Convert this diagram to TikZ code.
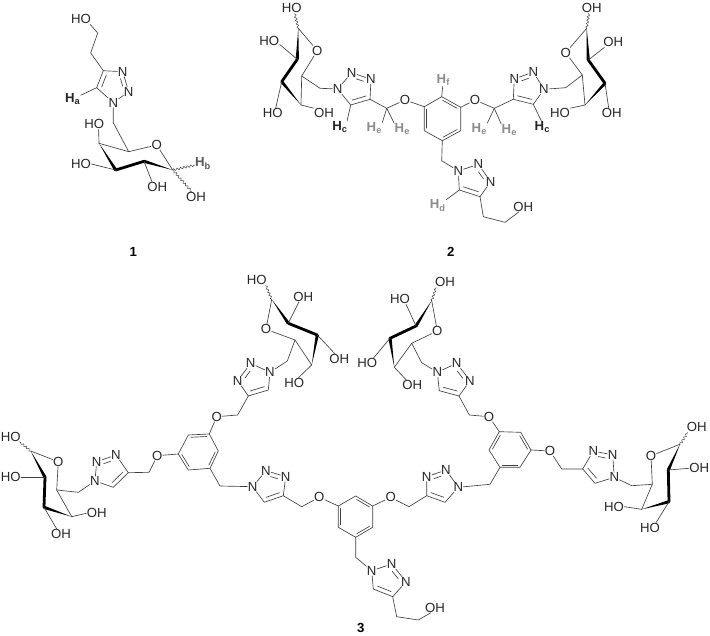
\documentclass[tikz,border=0pt]{standalone}
\usepackage{fontspec}
\setmainfont{Liberation Sans}
\usetikzlibrary{positioning,calc,decorations.pathmorphing}
\tikzstyle{AtomNode}=[inner sep=0.3pt, font=\fontsize{13.2}{13.2}\selectfont, text=black!85]
\tikzstyle{HydNode}=[AtomNode, font=\fontsize{13.2}{13.2}\selectfont\bfseries]
\tikzstyle{GrayNode}=[HydNode, text=black!45]
\tikzstyle{NumNode}=[inner sep=0pt, font=\fontsize{13.2}{13.2}\selectfont\bfseries]
\tikzstyle{BondLine}=[draw=black!75, line width=0.65pt, line cap=round, line join=round]
\tikzstyle{WavyBond}=[BondLine, line width=0.5pt, decorate, decoration={snake, amplitude=1.1pt, segment length=3.5pt}]
\tikzstyle{BoldBond}=[draw=black, line width=2.8pt, line cap=round]
\newcommand{\InnerBond}[4][0pt]{\draw [BondLine, shorten <=#1, shorten >=#1] ($(#2)!0.14!(#4)$) -- ($(#3)!0.14!(#4)$);}
\newcommand{\WedgeBond}[2]{\fill [black] (#1) -- ($(#2)!1.6pt!90:(#1)$) -- ($(#2)!1.6pt!-90:(#1)$) -- cycle;}
\newcommand{\SugarRing}[1]{%
  \draw [BondLine] (#1C1) -- (#1O) -- (#1C5) -- (#1C4);
  \WedgeBond{#1C1}{#1C2}
  \draw [BoldBond] (#1C2) -- (#1C3);
  \WedgeBond{#1C4}{#1C3}
}
\newcommand{\TriazoleRing}[1]{%
  \draw [BondLine] (#1N1) -- (#1N2) -- (#1N3) -- (#1C4) -- (#1C5) -- (#1N1);
  \InnerBond[5pt]{#1N2}{#1N3}{#1C5}
  \InnerBond[1.5pt]{#1C4}{#1C5}{#1N2}
}
\newcommand{\BenzeneRing}[1]{%
  \draw [BondLine] (#1A) -- (#1B) -- (#1C) -- (#1D) -- (#1E) -- (#1F) -- cycle;
  \coordinate (#1M) at ($(#1A)!0.5!(#1D)$);
  \InnerBond[1pt]{#1A}{#1B}{#1M}
  \InnerBond[1pt]{#1C}{#1D}{#1M}
  \InnerBond[1pt]{#1E}{#1F}{#1M}
}

\begin{document}
\begin{tikzpicture}[x=1pt, y=-1pt]
    \useasboundingbox (0,0) rectangle (710,636);

    % compound 1
    \node (T1HO) [AtomNode] at (81,19) {HO};
    \coordinate (T1Cb) at (97.7,33);
    \coordinate (T1Ca) at (90.7,53);
    \coordinate (T1C4) at (103.3,70.7);
    \coordinate (T1C5) at (96.7,87.7);
    \node (T1N3) [AtomNode] at (122.7,71.7) {N};
    \node (T1N2) [AtomNode] at (128.7,91.7) {N};
    \node (T1N1) [AtomNode] at (113.3,102.7) {N};
    \node (T1Ha) [HydNode] at (72.7,99) {H\textsubscript{a}};
    \coordinate (S1CH2) at (113.3,122.7);
    \coordinate (S1C5) at (128.7,151.7);
    \node (S1O) [AtomNode] at (156.7,145) {O};
    \coordinate (S1C1) at (172.7,170);
    \coordinate (S1C2) at (144,161.3);
    \coordinate (S1C3) at (115.7,170);
    \coordinate (S1C4) at (99,143.3);
    \node (S1HO4) [AtomNode] at (94.3,124) {HO};
    \node (S1HO3) [AtomNode] at (81,164) {HO};
    \node (S1OH2) [AtomNode] at (157.3,187.3) {OH};
    \node (S1OH1) [AtomNode] at (196,196.7) {OH};
    \node (S1Hb) [HydNode, text=black!65] at (203,163.3) {H\textsubscript{b}};
    \node (Num1) [NumNode] at (133.3,252.3) {1};

    \TriazoleRing{T1}
    \SugarRing{S1}
    \draw [BondLine] (T1HO.-30) -- (T1Cb) -- (T1Ca) -- (T1C4);
    \draw [BondLine] (T1C5) -- (T1Ha.25);
    \draw [BondLine] (T1N1) -- (S1CH2) -- (S1C5);
    \draw [BondLine] (S1C4) -- (S1HO4.-50);
    \draw [BondLine] (S1C3) -- (S1HO3.east);
    \draw [BondLine] (S1C2) -- (S1OH2.135);
    \draw [WavyBond] (S1C1) -- (S1Hb);
    \draw [WavyBond] (S1C1) -- (S1OH1.130);

    % compound 2
    \node (S2HO1) [AtomNode] at (291.7,8.3) {HO};
    \coordinate (S2C1) at (298.3,28.3);
    \node (S2O) [AtomNode] at (317.3,50.7) {O};
    \coordinate (S2C2) at (297.3,59.3);
    \coordinate (S2C3) at (281.7,81.7);
    \coordinate (S2C4) at (301,105);
    \coordinate (S2C5) at (301.7,76);
    \coordinate (S2CH2) at (320,88.3);
    \node (S2HO2) [AtomNode] at (269.3,40.7) {HO};
    \node (S2HO3) [AtomNode] at (272.7,113.3) {HO};
    \node (S2OH4) [AtomNode] at (324,113.3) {OH};
    \node (T2N1) [AtomNode] at (337.7,89) {N};
    \node (T2N2) [AtomNode] at (351.7,72.7) {N};
    \node (T2N3) [AtomNode] at (371,79.3) {N};
    \coordinate (T2C4) at (370,99.3);
    \coordinate (T2C5) at (350.7,105);
    \coordinate (T2CH) at (386.7,108.3);
    \node (T2O) [AtomNode] at (405,100) {O};
    \node (T2Hc) [HydNode] at (340,126.7) {H\textsubscript{c}};
    \node (T2HeA) [GrayNode] at (374.3,128.3) {H\textsubscript{e}};
    \node (T2HeB) [GrayNode] at (402.3,129.3) {H\textsubscript{e}};
    \coordinate (B1A) at (441.7,96.7);
    \coordinate (B1B) at (460.7,107.3);
    \coordinate (B1C) at (460.7,130.7);
    \coordinate (B1D) at (442.3,140.7);
    \coordinate (B1E) at (424.3,130.7);
    \coordinate (B1F) at (424.3,106.7);
    \node (B1Hf) [GrayNode] at (443.3,80) {H\textsubscript{f}};
    \node (T3O) [AtomNode] at (475,100) {O};
    \coordinate (T3CH) at (494.3,108.3);
    \node (T3HeA) [GrayNode] at (479.3,129) {H\textsubscript{e}};
    \node (T3HeB) [GrayNode] at (509.3,130) {H\textsubscript{e}};
    \coordinate (T3C4) at (513.3,99.3);
    \coordinate (T3C5) at (533.3,104.3);
    \node (T3N3) [AtomNode] at (514.3,79) {N};
    \node (T3N2) [AtomNode] at (533.3,72) {N};
    \node (T3N1) [AtomNode] at (544,89.3) {N};
    \node (T3Hc) [HydNode] at (542.3,126.7) {H\textsubscript{c}};
    \coordinate (S3CH2) at (565.7,87.7);
    \coordinate (S3C5) at (582.3,75);
    \node (S3O) [AtomNode] at (565.7,52.7) {O};
    \coordinate (S3C1) at (586.7,28.3);
    \coordinate (S3C2) at (588.3,60);
    \coordinate (S3C3) at (605,83.3);
    \coordinate (S3C4) at (585,105);
    \node (S3OH1) [AtomNode] at (591.7,8.3) {OH};
    \node (S3OH2) [AtomNode] at (613.3,42.3) {OH};
    \node (S3OH3) [AtomNode] at (611.7,113.3) {OH};
    \node (S3HO4) [AtomNode] at (560,113.3) {HO};
    \coordinate (T4CH2) at (441.7,160.7);
    \node (T4N1) [AtomNode] at (458.3,171) {N};
    \node (T4N2) [AtomNode] at (478.3,164.3) {N};
    \node (T4N3) [AtomNode] at (490.7,181.7) {N};
    \coordinate (T4C4) at (480,196.7);
    \coordinate (T4C5) at (459.3,190);
    \node (T4Hd) [GrayNode] at (437.7,205.7) {H\textsubscript{d}};
    \coordinate (T4Ca) at (483.3,216.7);
    \coordinate (T4Cb) at (505,222.3);
    \node (T4OH) [AtomNode] at (523.3,206.7) {OH};
    \node (Num2) [NumNode] at (450.7,252.3) {2};

    \SugarRing{S2}
    \SugarRing{S3}
    \TriazoleRing{T2}
    \TriazoleRing{T3}
    \TriazoleRing{T4}
    \BenzeneRing{B1}
    \draw [WavyBond] (S2C1) -- (S2HO1.-60);
    \draw [BondLine] (S2C2) -- (S2HO2.-20);
    \draw [BondLine] (S2C3) -- (S2HO3.60);
    \draw [BondLine] (S2C4) -- (S2OH4.north west);
    \draw [BondLine] (S2C5) -- (S2CH2) -- (T2N1);
    \draw [BondLine] (T2C5) -- (T2Hc.40);
    \draw [BondLine] (T2C4) -- (T2CH) -- (T2O) -- (B1F);
    \draw [BondLine] (T2CH) -- (T2HeA.north east);
    \draw [BondLine] (T2CH) -- (T2HeB.north west);
    \draw [BondLine] (B1A) -- (B1Hf);
    \draw [BondLine] (B1B) -- (T3O) -- (T3CH) -- (T3C4);
    \draw [BondLine] (T3CH) -- (T3HeA.north east);
    \draw [BondLine] (T3CH) -- (T3HeB.north west);
    \draw [BondLine] (T3C5) -- (T3Hc.100);
    \draw [BondLine] (T3N1) -- (S3CH2) -- (S3C5);
    \draw [WavyBond] (S3C1) -- (S3OH1.-120);
    \draw [BondLine] (S3C2) -- (S3OH2.210);
    \draw [BondLine] (S3C3) -- (S3OH3.120);
    \draw [BondLine] (S3C4) -- (S3HO4.north east);
    \draw [BondLine] (B1D) -- (T4CH2) -- (T4N1);
    \draw [BondLine] (T4C5) -- (T4Hd.35);
    \draw [BondLine] (T4C4) -- (T4Ca) -- (T4Cb) -- (T4OH.-130);

    % compound 3, upper left arm
    \node (S4HO1) [AtomNode] at (256.7,280) {HO};
    \coordinate (S4C1) at (271.7,299.3);
    \node (S4O) [AtomNode] at (266,329.3) {O};
    \coordinate (S4C5) at (295,340);
    \coordinate (S4C2) at (288.3,323.3);
    \coordinate (S4C3) at (317.3,335);
    \coordinate (S4C4) at (311.7,365);
    \coordinate (S4CH2) at (287.3,361);
    \node (S4OH2) [AtomNode] at (303.3,296.7) {OH};
    \node (S4OH3) [AtomNode] at (339.3,359) {OH};
    \node (S4HO4) [AtomNode] at (294.3,382.7) {HO};
    \node (T5N1) [AtomNode] at (270,372.3) {N};
    \node (T5N2) [AtomNode] at (250.7,363.3) {N};
    \node (T5N3) [AtomNode] at (237.7,380.7) {N};
    \coordinate (T5C4) at (248.3,396);
    \coordinate (T5C5) at (268.3,390);
    \coordinate (T5CH2) at (237.7,415);
    \node (B2O1) [AtomNode] at (216.7,416.7) {O};
    \coordinate (B2A) at (188.3,435);
    \coordinate (B2B) at (209.3,434);
    \coordinate (B2C) at (218.3,451);
    \coordinate (B2D) at (210,468.3);
    \coordinate (B2E) at (188.3,470);
    \coordinate (B2F) at (178.3,454);
    \node (B2O2) [AtomNode] at (157.3,455.7) {O};

    % compound 3, left arm
    \coordinate (T7CH2) at (149,472.3);
    \coordinate (T7C4) at (128.3,472.7);
    \coordinate (T7C5) at (113.3,487.3);
    \node (T7N3) [AtomNode] at (116,455) {N};
    \node (T7N2) [AtomNode] at (96.7,461.7) {N};
    \node (T7N1) [AtomNode] at (95,481) {N};
    \coordinate (S6CH2) at (78.3,492.3);
    \coordinate (S6C5) at (56.7,490);
    \node (S6O) [AtomNode] at (58.3,461.7) {O};
    \coordinate (S6C1) at (30.7,451);
    \coordinate (S6C2) at (45,477.3);
    \coordinate (S6C3) at (44,507.3);
    \coordinate (S6C4) at (71.7,516.7);
    \node (S6HO1) [AtomNode] at (10.7,436.7) {HO};
    \node (S6HO2) [AtomNode] at (10.7,477.3) {HO};
    \node (S6OH3) [AtomNode] at (61,534) {OH};
    \node (S6OH4) [AtomNode] at (96.7,513.3) {OH};

    % compound 3, upper right arm
    \node (S5OH1) [AtomNode] at (445,282.3) {OH};
    \coordinate (S5C1) at (431.7,300.7);
    \node (S5O) [AtomNode] at (437.3,331) {O};
    \coordinate (S5C2) at (416,326);
    \coordinate (S5C3) at (390,338.3);
    \coordinate (S5C4) at (394.3,367.3);
    \coordinate (S5C5) at (411.7,343.3);
    \coordinate (S5CH2) at (421.7,362.7);
    \node (S5HO2) [AtomNode] at (400,299.3) {HO};
    \node (S5HO3) [AtomNode] at (367.3,363.3) {HO};
    \node (S5OH4) [AtomNode] at (412.3,385) {OH};
    \node (T6N1) [AtomNode] at (437.3,372.3) {N};
    \node (T6N2) [AtomNode] at (456.7,363.3) {N};
    \node (T6N3) [AtomNode] at (470,380.7) {N};
    \coordinate (T6C4) at (459,396);
    \coordinate (T6C5) at (439.3,390.7);
    \coordinate (T6CH2) at (469.3,415);
    \node (B3O1) [AtomNode] at (489,416.7) {O};
    \coordinate (B3A) at (489,450);
    \coordinate (B3B) at (499.3,431.7);
    \coordinate (B3C) at (520.7,432.3);
    \coordinate (B3D) at (531,450);
    \coordinate (B3E) at (520,467.3);
    \coordinate (B3F) at (500,467.3);
    \node (B3O2) [AtomNode] at (550,451) {O};

    % compound 3, right arm
    \coordinate (T8CH2) at (561.7,469);
    \coordinate (T8C4) at (582.7,469);
    \coordinate (T8C5) at (595,483.3);
    \node (T8N3) [AtomNode] at (593.3,451) {N};
    \node (T8N2) [AtomNode] at (612.7,455) {N};
    \node (T8N1) [AtomNode] at (614.3,477.3) {N};
    \coordinate (S7CH2) at (631.7,485.7);
    \coordinate (S7C5) at (652.3,484.3);
    \node (S7O) [AtomNode] at (651,455.7) {O};
    \coordinate (S7C1) at (680,444.3);
    \coordinate (S7C2) at (668.3,470);
    \coordinate (S7C3) at (669,501.7);
    \coordinate (S7C4) at (641.7,509.3);
    \node (S7OH1) [AtomNode] at (696.7,427.3) {OH};
    \node (S7OH2) [AtomNode] at (699.3,468.3) {OH};
    \node (S7HO3) [AtomNode] at (650,527.7) {HO};
    \node (S7HO4) [AtomNode] at (614,506.7) {HO};

    % compound 3, core
    \coordinate (T9CH2) at (220,486);
    \node (T9N1) [AtomNode] at (252.7,486.7) {N};
    \node (T9N2) [AtomNode] at (266,470.7) {N};
    \node (T9N3) [AtomNode] at (285.7,476.7) {N};
    \coordinate (T9C4) at (283.3,495.7);
    \coordinate (T9C5) at (264.3,502.3);
    \coordinate (T9Ca) at (301.7,506.7);
    \node (B4O1) [AtomNode] at (319.3,497.3) {O};
    \coordinate (B4A) at (355.7,496);
    \coordinate (B4B) at (372.7,506);
    \coordinate (B4C) at (372.7,527.3);
    \coordinate (B4D) at (355.7,537.3);
    \coordinate (B4E) at (338.3,527.3);
    \coordinate (B4F) at (338.3,506);
    \node (B4O2) [AtomNode] at (390.7,497.3) {O};
    \coordinate (T10Ca) at (409,506.7);
    \coordinate (T10C4) at (426.7,495.7);
    \coordinate (T10C5) at (445,502.3);
    \node (T10N3) [AtomNode] at (426.7,476.7) {N};
    \node (T10N2) [AtomNode] at (446,470) {N};
    \node (T10N1) [AtomNode] at (458.3,487.3) {N};
    \coordinate (T10CH2) at (490,484.3);
    \coordinate (T11CH2) at (355.7,557.3);
    \node (T11N1) [AtomNode] at (371.7,570.7) {N};
    \node (T11N2) [AtomNode] at (391.7,564) {N};
    \node (T11N3) [AtomNode] at (406,581.7) {N};
    \coordinate (T11C4) at (392.7,596.7);
    \coordinate (T11C5) at (373.3,589);
    \coordinate (T11Ca) at (396.7,616.7);
    \coordinate (T11Cb) at (418.3,620);
    \node (T11OH) [AtomNode] at (435,607.7) {OH};
    \node (Num3) [NumNode] at (360.7,628.3) {3};

    \SugarRing{S4}
    \SugarRing{S5}
    \SugarRing{S6}
    \SugarRing{S7}
    \TriazoleRing{T5}
    \TriazoleRing{T6}
    \TriazoleRing{T7}
    \TriazoleRing{T8}
    \TriazoleRing{T9}
    \TriazoleRing{T10}
    \TriazoleRing{T11}
    \BenzeneRing{B2}
    \BenzeneRing{B3}
    \BenzeneRing{B4}

    \draw [WavyBond] (S4C1) -- (S4HO1.-30);
    \draw [BondLine] (S4C2) -- (S4OH2.-130);
    \draw [BondLine] (S4C3) -- (S4OH3.130);
    \draw [BondLine] (S4C4) -- (S4HO4.50);
    \draw [BondLine] (S4C5) -- (S4CH2) -- (T5N1);
    \draw [BondLine] (T5C4) -- (T5CH2) -- (B2O1) -- (B2B);
    \draw [BondLine] (B2F) -- (B2O2) -- (T7CH2) -- (T7C4);
    \draw [BondLine] (T7N1) -- (S6CH2) -- (S6C5);
    \draw [WavyBond] (S6C1) -- (S6HO1.-30);
    \draw [BondLine] (S6C2) -- (S6HO2.east);
    \draw [BondLine] (S6C3) -- (S6OH3.130);
    \draw [BondLine] (S6C4) -- (S6OH4.west);
    \draw [BondLine] (B2D) -- (T9CH2) -- (T9N1);
    \draw [BondLine] (T9C4) -- (T9Ca) -- (B4O1) -- (B4F);
    \draw [BondLine] (B4B) -- (B4O2) -- (T10Ca) -- (T10C4);
    \draw [BondLine] (T10N1) -- (T10CH2) -- (B3F);
    \draw [BondLine] (B3B) -- (B3O1) -- (T6CH2) -- (T6C4);
    \draw [BondLine] (T6N1) -- (S5CH2) -- (S5C5);
    \draw [WavyBond] (S5C1) -- (S5OH1.-150);
    \draw [BondLine] (S5C2) -- (S5HO2.-40);
    \draw [BondLine] (S5C3) -- (S5HO3.40);
    \draw [BondLine] (S5C4) -- (S5OH4.140);
    \draw [BondLine] (B3D) -- (B3O2) -- (T8CH2) -- (T8C4);
    \draw [BondLine] (T8N1) -- (S7CH2) -- (S7C5);
    \draw [WavyBond] (S7C1) -- (S7OH1.-150);
    \draw [BondLine] (S7C2) -- (S7OH2.west);
    \draw [BondLine] (S7C3) -- (S7HO3.40);
    \draw [BondLine] (S7C4) -- (S7HO4.east);
    \draw [BondLine] (B4D) -- (T11CH2) -- (T11N1);
    \draw [BondLine] (T11C4) -- (T11Ca) -- (T11Cb) -- (T11OH.-130);

\end{tikzpicture}
\end{document}
